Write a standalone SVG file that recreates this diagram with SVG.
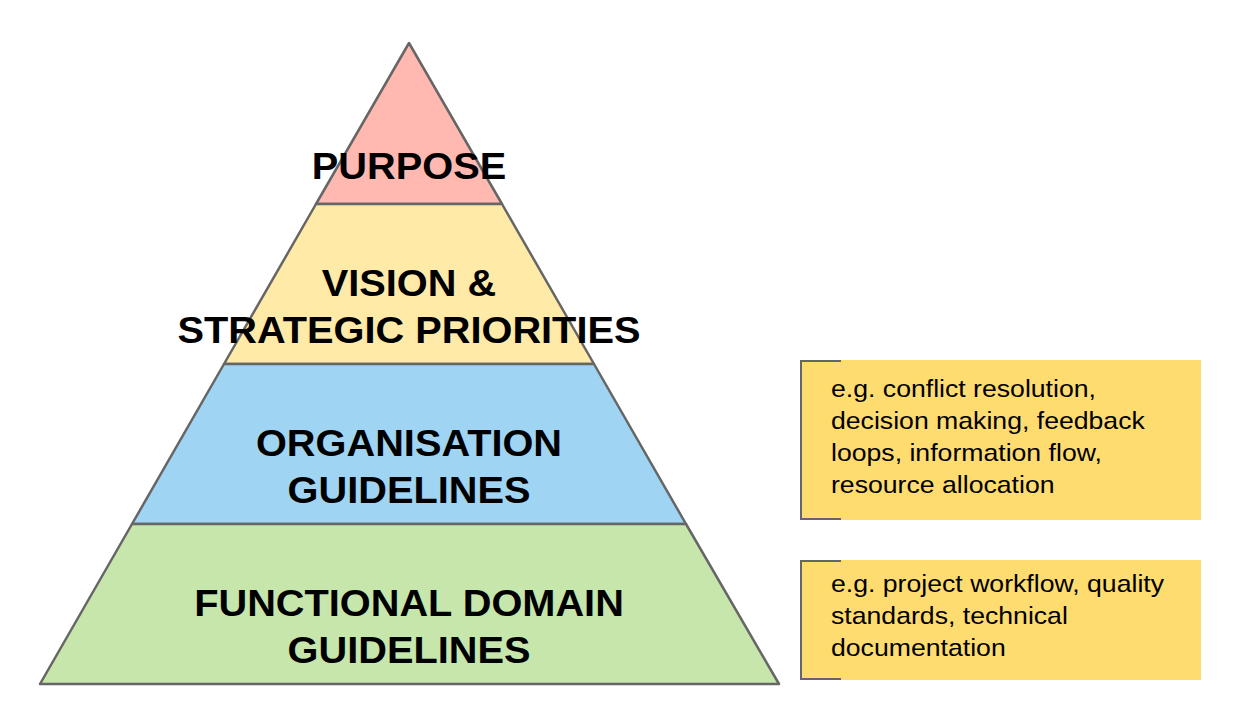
<svg xmlns="http://www.w3.org/2000/svg" width="1241" height="724" viewBox="0 0 1241 724">
<style>
.layer{stroke:#666666;stroke-width:2.5;stroke-linejoin:round}
.big{font-family:"Liberation Sans",Arial,sans-serif;font-weight:bold;font-size:37.5px;fill:#000;text-anchor:middle}
.note{font-family:"Liberation Sans",Arial,sans-serif;font-size:24px;fill:#000}
.box{fill:#ffdc70}
.bracket{fill:none;stroke:#666666;stroke-width:2}
</style>
<rect width="1241" height="724" fill="#ffffff"/>
<g id="purpose">
<polygon class="layer" points="409,43 502,204 316,204" fill="#ffb9b0"/>
<text class="big" transform="translate(409 179) scale(1.06 1)">PURPOSE</text>
</g>
<g id="vision">
<polygon class="layer" points="316,204 502,204 594,364 224,364" fill="#ffeaa8"/>
<text class="big" transform="translate(409 296) scale(1.06 1)">VISION &amp;</text>
<text class="big" transform="translate(409 343) scale(1.06 1)">STRATEGIC PRIORITIES</text>
</g>
<g id="organisation">
<polygon class="layer" points="224,364 594,364 686,524 132,524" fill="#9fd4f3"/>
<text class="big" transform="translate(409 456) scale(1.06 1)">ORGANISATION</text>
<text class="big" transform="translate(409 503) scale(1.06 1)">GUIDELINES</text>
</g>
<g id="functional">
<polygon class="layer" points="132,524 686,524 779,684 40,684" fill="#c6e6ac"/>
<text class="big" transform="translate(409 616) scale(1.06 1)">FUNCTIONAL DOMAIN</text>
<text class="big" transform="translate(409 663) scale(1.06 1)">GUIDELINES</text>
</g>
<g id="note-organisation">
<rect class="box" x="801" y="360" width="400" height="160"/>
<path class="bracket" d="M841,361 H801 V519 H841"/>
<g transform="translate(831 0) scale(1.11 1)">
<text class="note" x="0" y="397">e.g. conflict resolution,</text>
<text class="note" x="0" y="429">decision making, feedback</text>
<text class="note" x="0" y="461">loops, information flow,</text>
<text class="note" x="0" y="493">resource allocation</text>
</g>
</g>
<g id="note-functional">
<rect class="box" x="801" y="560" width="400" height="120"/>
<path class="bracket" d="M841,561 H801 V679 H841"/>
<g transform="translate(831 0) scale(1.11 1)">
<text class="note" x="0" y="592">e.g. project workflow, quality</text>
<text class="note" x="0" y="624">standards, technical</text>
<text class="note" x="0" y="656">documentation</text>
</g>
</g>
<g id="connectors"></g>
</svg>
